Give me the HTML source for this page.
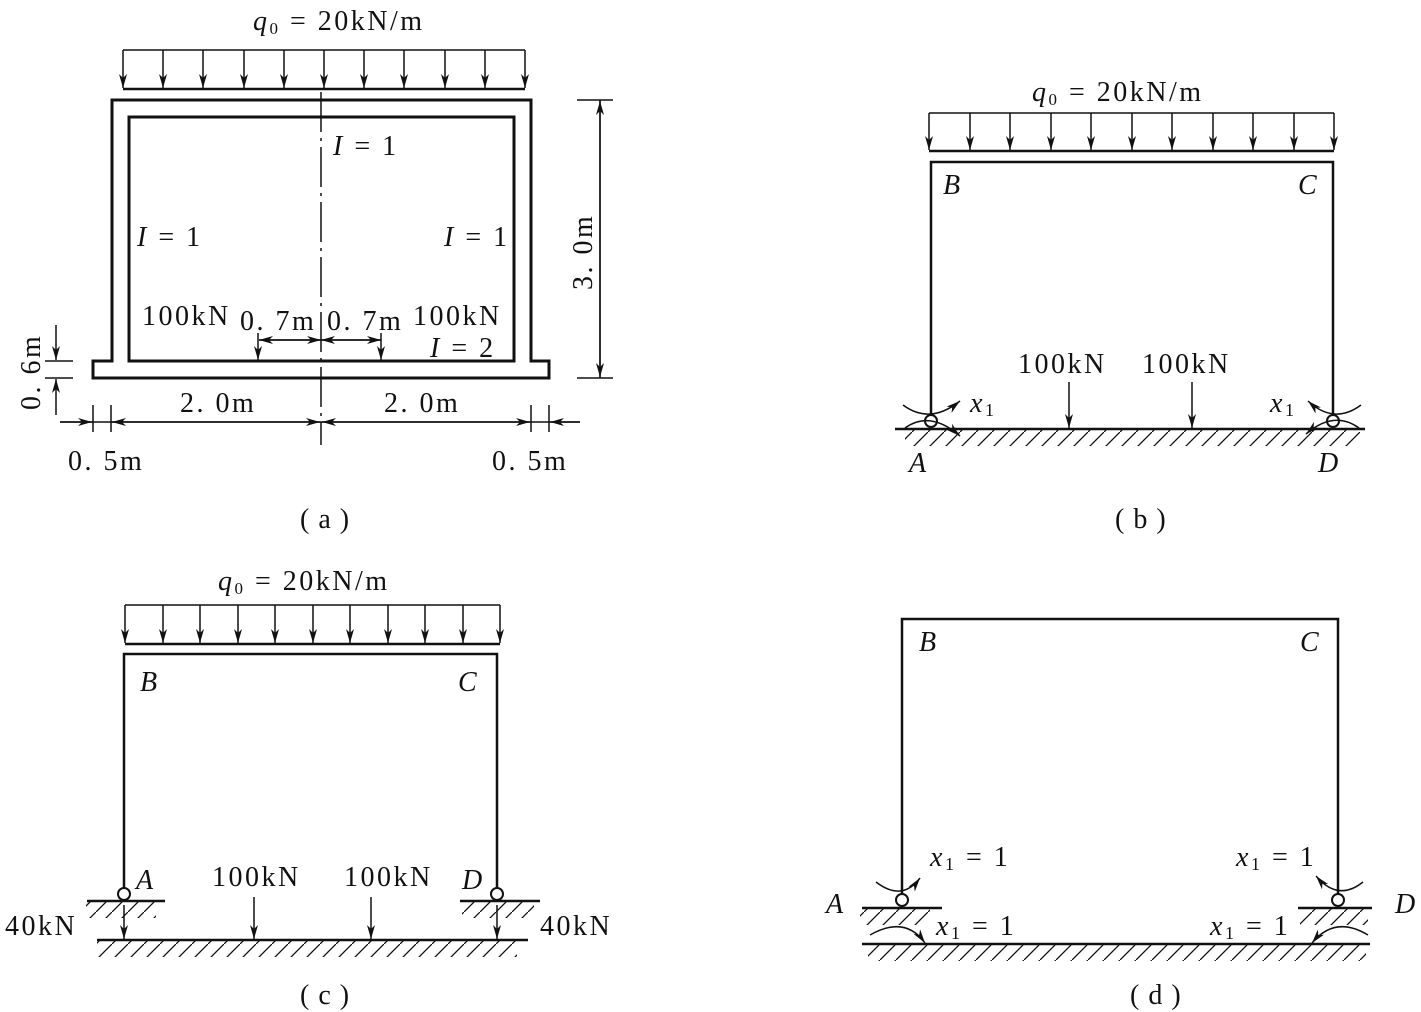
<!DOCTYPE html>
<html><head><meta charset="utf-8"><style>
html,body{margin:0;padding:0;background:#fff}
svg{display:block}
text{font-family:"Liberation Serif",serif;font-size:28px;fill:#111;letter-spacing:2.5px}
.i{font-style:italic}
.cap{letter-spacing:9px}
</style></head><body>
<svg width="1421" height="1012" viewBox="0 0 1421 1012" xmlns="http://www.w3.org/2000/svg">
<defs>
<marker id="ar" markerUnits="userSpaceOnUse" markerWidth="14" markerHeight="8" refX="14" refY="4" orient="auto"><path d="M0,0 L14,4 L0,8 L4,4 Z" fill="#111"/></marker>
<pattern id="h" patternUnits="userSpaceOnUse" width="16" height="16"><line x1="0" y1="16" x2="16" y2="0" stroke="#111" stroke-width="1.3"/></pattern>
</defs>
<g stroke="#111" fill="none" stroke-width="1.5">
<!-- ===== (a) ===== -->
<line x1="123" y1="50" x2="525" y2="50"/>
<line x1="123" y1="89" x2="525" y2="89" stroke-width="2.5"/>
<g marker-end="url(#ar)">
<line x1="123" y1="50" x2="123" y2="88"/><line x1="163" y1="50" x2="163" y2="88"/><line x1="203" y1="50" x2="203" y2="88"/><line x1="244" y1="50" x2="244" y2="88"/><line x1="284" y1="50" x2="284" y2="88"/><line x1="324" y1="50" x2="324" y2="88"/><line x1="364" y1="50" x2="364" y2="88"/><line x1="404" y1="50" x2="404" y2="88"/><line x1="445" y1="50" x2="445" y2="88"/><line x1="485" y1="50" x2="485" y2="88"/><line x1="525" y1="50" x2="525" y2="88"/>
</g>
<path d="M112,100 H531 V361 H549 V378 H93 V361 H112 Z" stroke-width="3"/>
<rect x="129" y="117" width="385" height="244" stroke-width="3"/>
<line x1="321" y1="92" x2="321" y2="445" stroke-dasharray="40,6,3,6"/>
<line x1="258" y1="333" x2="258" y2="360" marker-end="url(#ar)"/>
<line x1="381" y1="333" x2="381" y2="360" marker-end="url(#ar)"/>
<line x1="321" y1="340" x2="259" y2="340" marker-end="url(#ar)"/>
<line x1="259" y1="340" x2="321" y2="340" marker-end="url(#ar)"/>
<line x1="321" y1="340" x2="381" y2="340" marker-end="url(#ar)"/>
<line x1="381" y1="340" x2="321" y2="340" marker-end="url(#ar)"/>
<line x1="600" y1="100" x2="600" y2="378"/>
<line x1="577" y1="100" x2="613" y2="100"/><line x1="577" y1="378" x2="613" y2="378"/>
<line x1="600" y1="240" x2="600" y2="101" marker-end="url(#ar)"/>
<line x1="600" y1="240" x2="600" y2="377" marker-end="url(#ar)"/>
<line x1="45" y1="361" x2="73" y2="361"/><line x1="45" y1="378" x2="73" y2="378"/>
<line x1="56" y1="325" x2="56" y2="360" marker-end="url(#ar)"/>
<line x1="56" y1="415" x2="56" y2="379" marker-end="url(#ar)"/>
<line x1="60" y1="422" x2="580" y2="422"/>
<line x1="93" y1="405" x2="93" y2="432"/><line x1="111" y1="405" x2="111" y2="432"/>
<line x1="531" y1="405" x2="531" y2="432"/><line x1="549" y1="405" x2="549" y2="432"/>
<line x1="60" y1="422" x2="92" y2="422" marker-end="url(#ar)"/>
<line x1="200" y1="422" x2="112" y2="422" marker-end="url(#ar)"/>
<line x1="200" y1="422" x2="320" y2="422" marker-end="url(#ar)"/>
<line x1="440" y1="422" x2="322" y2="422" marker-end="url(#ar)"/>
<line x1="440" y1="422" x2="530" y2="422" marker-end="url(#ar)"/>
<line x1="580" y1="422" x2="550" y2="422" marker-end="url(#ar)"/>

<!-- ===== (b) ===== -->
<line x1="929" y1="113" x2="1334" y2="113"/>
<line x1="929" y1="151" x2="1334" y2="151" stroke-width="2.5"/>
<g marker-end="url(#ar)">
<line x1="929" y1="113" x2="929" y2="150"/><line x1="970" y1="113" x2="970" y2="150"/><line x1="1010" y1="113" x2="1010" y2="150"/><line x1="1051" y1="113" x2="1051" y2="150"/><line x1="1091" y1="113" x2="1091" y2="150"/><line x1="1132" y1="113" x2="1132" y2="150"/><line x1="1172" y1="113" x2="1172" y2="150"/><line x1="1213" y1="113" x2="1213" y2="150"/><line x1="1253" y1="113" x2="1253" y2="150"/><line x1="1294" y1="113" x2="1294" y2="150"/><line x1="1334" y1="113" x2="1334" y2="150"/>
</g>
<path d="M931,415 V162 H1333 V415" stroke-width="2.5"/>
<circle cx="931" cy="421" r="6" stroke-width="2"/><circle cx="1333" cy="421" r="6" stroke-width="2"/>
<line x1="895" y1="429" x2="1365" y2="429" stroke-width="2.5"/>
<rect x="905" y="430" width="455" height="16" fill="url(#h)" stroke="none"/>
<line x1="1069" y1="382" x2="1069" y2="428" marker-end="url(#ar)"/>
<line x1="1192" y1="382" x2="1192" y2="428" marker-end="url(#ar)"/>
<path d="M903,405 Q930,425 960,401" marker-end="url(#ar)"/>
<path d="M905,428 Q930,410 960,436" marker-end="url(#ar)"/>
<path d="M1361,405 Q1334,425 1308,401" marker-end="url(#ar)"/>
<path d="M1359,428 Q1334,410 1306,434" marker-end="url(#ar)"/>

<!-- ===== (c) ===== -->
<line x1="125" y1="605" x2="500" y2="605"/>
<line x1="125" y1="644" x2="500" y2="644" stroke-width="2.5"/>
<g marker-end="url(#ar)">
<line x1="125" y1="605" x2="125" y2="643"/><line x1="163" y1="605" x2="163" y2="643"/><line x1="200" y1="605" x2="200" y2="643"/><line x1="238" y1="605" x2="238" y2="643"/><line x1="275" y1="605" x2="275" y2="643"/><line x1="313" y1="605" x2="313" y2="643"/><line x1="350" y1="605" x2="350" y2="643"/><line x1="388" y1="605" x2="388" y2="643"/><line x1="425" y1="605" x2="425" y2="643"/><line x1="463" y1="605" x2="463" y2="643"/><line x1="500" y1="605" x2="500" y2="643"/>
</g>
<path d="M124,888 V654 H497 V888" stroke-width="2.5"/>
<circle cx="124" cy="894" r="6" stroke-width="2"/><circle cx="497" cy="894" r="6" stroke-width="2"/>
<line x1="87" y1="901" x2="165" y2="901" stroke-width="2.5"/>
<line x1="460" y1="901" x2="540" y2="901" stroke-width="2.5"/>
<rect x="86" y="902" width="70" height="16" fill="url(#h)" stroke="none"/>
<rect x="462" y="902" width="72" height="16" fill="url(#h)" stroke="none"/>
<line x1="97" y1="940" x2="528" y2="940" stroke-width="2.5"/>
<rect x="97" y="941" width="420" height="16" fill="url(#h)" stroke="none"/>
<line x1="124" y1="905" x2="124" y2="939" marker-end="url(#ar)"/>
<line x1="497" y1="905" x2="497" y2="939" marker-end="url(#ar)"/>
<line x1="254" y1="897" x2="254" y2="939" marker-end="url(#ar)"/>
<line x1="371" y1="897" x2="371" y2="939" marker-end="url(#ar)"/>

<!-- ===== (d) ===== -->
<path d="M902,894 V619 H1338 V894" stroke-width="2.5"/>
<circle cx="902" cy="900" r="6" stroke-width="2"/><circle cx="1338" cy="900" r="6" stroke-width="2"/>
<line x1="862" y1="908" x2="942" y2="908" stroke-width="2.5"/>
<line x1="1298" y1="908" x2="1372" y2="908" stroke-width="2.5"/>
<rect x="860" y="909" width="70" height="16" fill="url(#h)" stroke="none"/>
<rect x="1300" y="909" width="68" height="16" fill="url(#h)" stroke="none"/>
<line x1="862" y1="944" x2="1370" y2="944" stroke-width="2.5"/>
<rect x="868" y="945" width="498" height="16" fill="url(#h)" stroke="none"/>
<path d="M876,882 Q902,902 920,878" marker-end="url(#ar)"/>
<path d="M1363,882 Q1338,902 1316,876" marker-end="url(#ar)"/>
<path d="M870,935 Q905,915 925,943" marker-end="url(#ar)"/>
<path d="M1368,935 Q1335,915 1312,943" marker-end="url(#ar)"/>
</g>

<!-- text (a) -->
<text x="253" y="30"><tspan class="i">q</tspan><tspan font-size="17" dy="4">0</tspan><tspan dy="-4"> = 20kN/m</tspan></text>
<text x="333" y="155"><tspan class="i">I</tspan> = 1</text>
<text x="137" y="246"><tspan class="i">I</tspan> = 1</text>
<text x="444" y="246"><tspan class="i">I</tspan> = 1</text>
<text x="142" y="325">100kN</text>
<text x="413" y="325">100kN</text>
<text x="240" y="330" letter-spacing="1">0. 7m</text>
<text x="327" y="330" letter-spacing="1">0. 7m</text>
<text x="430" y="357"><tspan class="i">I</tspan> = 2</text>
<text x="180" y="412" letter-spacing="4">2. 0m</text>
<text x="384" y="412" letter-spacing="4">2. 0m</text>
<text x="68" y="470" letter-spacing="4">0. 5m</text>
<text x="492" y="470" letter-spacing="4">0. 5m</text>
<text transform="translate(40,410) rotate(-90)" letter-spacing="4">0. 6m</text>
<text transform="translate(592,290) rotate(-90)" letter-spacing="4">3. 0m</text>
<text x="300" y="528" class="cap">(a)</text>
<!-- text (b) -->
<text x="1032" y="101"><tspan class="i">q</tspan><tspan font-size="17" dy="4">0</tspan><tspan dy="-4"> = 20kN/m</tspan></text>
<text x="943" y="194" class="i">B</text>
<text x="1298" y="194" class="i">C</text>
<text x="909" y="472" class="i">A</text>
<text x="1318" y="472" class="i">D</text>
<text x="1018" y="373">100kN</text>
<text x="1142" y="373">100kN</text>
<text x="970" y="412"><tspan class="i">x</tspan><tspan font-size="18" dy="4">1</tspan></text>
<text x="1270" y="412"><tspan class="i">x</tspan><tspan font-size="18" dy="4">1</tspan></text>
<text x="1115" y="528" class="cap">(b)</text>
<!-- text (c) -->
<text x="218" y="590"><tspan class="i">q</tspan><tspan font-size="17" dy="4">0</tspan><tspan dy="-4"> = 20kN/m</tspan></text>
<text x="140" y="691" class="i">B</text>
<text x="458" y="691" class="i">C</text>
<text x="136" y="889" class="i">A</text>
<text x="462" y="889" class="i">D</text>
<text x="212" y="886">100kN</text>
<text x="344" y="886">100kN</text>
<text x="5" y="935">40kN</text>
<text x="540" y="935">40kN</text>
<text x="300" y="1004" class="cap">(c)</text>
<!-- text (d) -->
<text x="919" y="651" class="i">B</text>
<text x="1300" y="651" class="i">C</text>
<text x="826" y="913" class="i">A</text>
<text x="1395" y="913" class="i">D</text>
<text x="930" y="866"><tspan class="i">x</tspan><tspan font-size="18" dy="4">1</tspan><tspan dy="-4"> = 1</tspan></text>
<text x="1236" y="866"><tspan class="i">x</tspan><tspan font-size="18" dy="4">1</tspan><tspan dy="-4"> = 1</tspan></text>
<text x="936" y="935"><tspan class="i">x</tspan><tspan font-size="18" dy="4">1</tspan><tspan dy="-4"> = 1</tspan></text>
<text x="1210" y="935"><tspan class="i">x</tspan><tspan font-size="18" dy="4">1</tspan><tspan dy="-4"> = 1</tspan></text>
<text x="1130" y="1004" class="cap">(d)</text>
</svg>
</body></html>
